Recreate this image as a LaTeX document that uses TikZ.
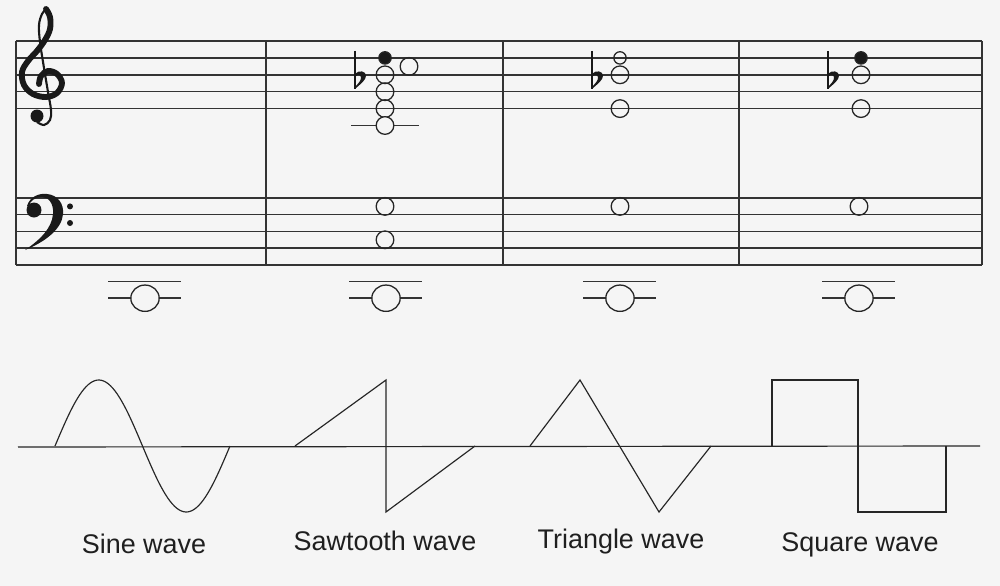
\documentclass[tikz,border=0pt]{standalone}
\usepackage{fontspec}
\setmainfont{Liberation Sans}
\usetikzlibrary{shapes.geometric}

\tikzset{
  staffline/.style={line width=1.3pt, black!80},
  wave/.style={line width=1pt, black!85, line join=miter},
  opennote/.style={circle, draw=black!85, line width=1.1pt, minimum size=0.53cm, inner sep=0pt},
  smallnote/.style={circle, draw=black!85, line width=1.1pt, minimum size=0.37cm, inner sep=0pt},
  fillednote/.style={smallnote, fill=black!90},
  wholenote/.style={ellipse, draw=black!85, line width=1.1pt, minimum width=0.85cm, minimum height=0.79cm, inner sep=0pt},
  wavelabel/.style={anchor=base, text=black!88, font=\fontsize{23}{27}\selectfont},
  flatsign/.pic={
    \draw[line width=1.3pt] (0,-24) -- (0,14);
    \fill (0,14) .. controls (6,9) and (11,5) .. (11,1) .. controls (11,-4) and (4,-5) .. (0,-1)
      -- (0,2) .. controls (3,-1) and (6,0) .. (6,3) .. controls (6,6) and (3,9) .. (0,12) -- cycle;
  }
}

\begin{document}
\begin{tikzpicture}[x=0.03cm, y=-0.03cm]
\useasboundingbox (0,0) rectangle (1000,586);
\fill[black!4] (0,0) rectangle (1000,586);

% staves
\foreach \i in {0,...,4} {
  \draw[staffline] (16,41+16.9*\i) -- (982,41+16.9*\i);
  \draw[staffline] (16,198+16.7*\i) -- (982,198+16.7*\i);
}
\foreach \x in {16,266,503,739,982}
  \draw[staffline, line width=1pt] (\x,41) -- (\x,264.8);

% treble clef
\draw[line width=5pt, black!90, line cap=round] plot[smooth, tension=0.6] coordinates {(39,84) (41,76) (48,71) (57,74) (62,83) (57,93) (46,97) (33,94) (24,85) (22,72) (28,61) (37,51) (45,40) (50,29) (50,17) (46,9)};
\draw[line width=1.8pt, black!90] plot[smooth, tension=0.6] coordinates {(46,9) (42,14) (39,25) (40,42) (44,68) (48,92) (51,110) (50,120) (44,125) (37,122)};
\fill[black!90] (37,116) circle[radius=6.5];

% bass clef
\fill[black!90] (27,206) .. controls (30,196) and (40,193) .. (47,194) .. controls (58,195) and (64,204) .. (63,214)
  .. controls (62,229) and (45,242) .. (25,250) .. controls (40,240) and (52,228) .. (53,214)
  .. controls (54,203) and (48,197) .. (42,197) .. controls (35,197) and (30,201) .. (29,206) -- cycle;
\fill[black!90] (34,210) circle[radius=7.5];
\fill[black!90] (70,206.4) circle[radius=3];
\fill[black!90] (70,223) circle[radius=3];

% fundamentals
\foreach \x/\n in {145/a,386/b,620/c,859/d} {
  \draw[staffline] (\x-37,281.5) -- (\x+36,281.5);
  \draw[staffline] (\x-37,298.2) -- (\x+36,298.2);
  \node[wholenote, fill=black!4] (low\n) at (\x,298.2) {};
}

% sawtooth harmonics
\draw[staffline] (351,125.5) -- (419,125.5);
\node[fillednote] (sawD) at (385,57.9) {};
\node[opennote] (sawBb) at (385,74.8) {};
\node[opennote] (sawG) at (385,91.7) {};
\node[opennote] (sawE) at (385,108.6) {};
\node[opennote, fill=black!4] (sawC) at (385,125.5) {};
\node[opennote] (sawCc) at (409,66.4) {};
\node[opennote] (sawGb) at (385,206.4) {};
\node[opennote] (sawCb) at (385,239.8) {};
\pic[black!90] at (355,74.8) {flatsign};

% triangle harmonics
\node[smallnote] (triD) at (620,57.9) {};
\node[opennote] (triBb) at (620,74.8) {};
\node[opennote] (triE) at (620,108.6) {};
\node[opennote] (triGb) at (620,206.4) {};
\pic[black!90] at (592,74.8) {flatsign};

% square harmonics
\node[fillednote] (sqD) at (861,57.9) {};
\node[opennote] (sqBb) at (861,74.8) {};
\node[opennote] (sqE) at (861,108.6) {};
\node[opennote] (sqGb) at (859,206.4) {};
\pic[black!90] at (828,74.8) {flatsign};

% waveforms
\draw[wave] (18,447) -- (980,446);
\draw[wave] plot[domain=0:360, samples=80] ({55+0.48611*\x}, {446-66*sin(\x)});
\draw[wave] (295,446) -- (386,380) -- (386,512) -- (475,446);
\draw[wave] (530,446) -- (580,380) -- (659,512) -- (711,446);
\draw[wave] (772,446) -- (772,380) -- (858,380) -- (858,512) -- (946,512) -- (946,446);

\node[wavelabel] (sine) at (144,553) {Sine wave};
\node[wavelabel] (saw) at (385,550) {Sawtooth wave};
\node[wavelabel] (tri) at (621,548) {Triangle wave};
\node[wavelabel] (square) at (860,551) {Square wave};
\end{tikzpicture}
\end{document}
